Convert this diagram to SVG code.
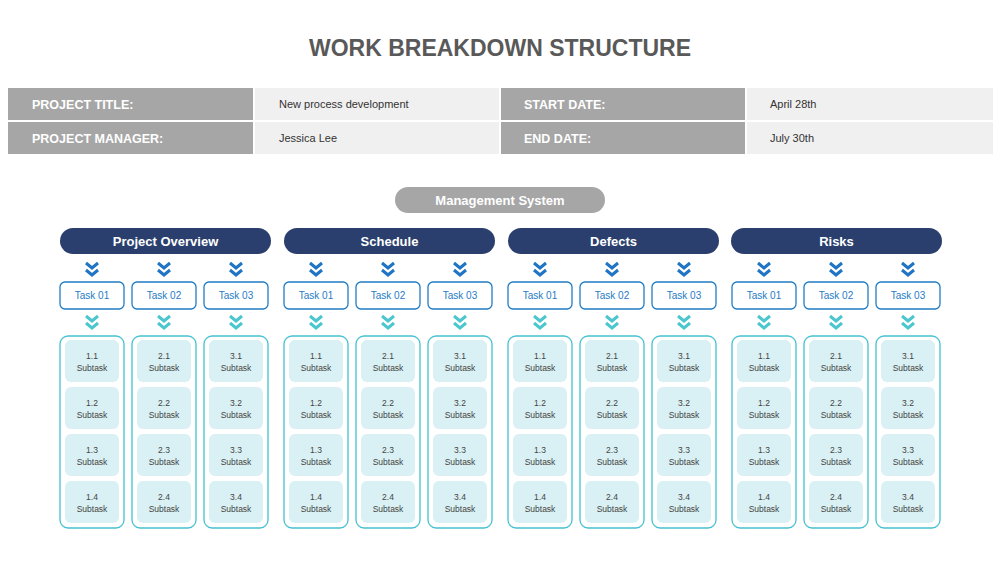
<svg xmlns="http://www.w3.org/2000/svg" xmlns:xlink="http://www.w3.org/1999/xlink" width="1000" height="563" viewBox="0 0 1000 563">
<style>
text{font-family:"Liberation Sans",Arial,sans-serif}
.lab{fill:#fff;font-weight:bold;font-size:12.5px}
.val{fill:#333;font-size:11px}
.pill{fill:#2b3f6e}
.ptx{fill:#fff;font-weight:bold;font-size:13px;text-anchor:middle}
.task{fill:#fff;stroke:#1f7bc4;stroke-width:1.3}
.ttx{fill:#1f7bc4;font-size:10px;text-anchor:middle}
.outer{fill:#fff;stroke:#45c2cf;stroke-width:1.3}
.cell{fill:#d9f1f4}
.stx{fill:#444;font-size:8.5px;text-anchor:middle}
</style>
<defs>
<g id="chevD"><path d="M-6,-6 L0,-1 L6,-6 M-6,1 L0,6 L6,1" fill="none" stroke="#1f74c4" stroke-width="3"/></g>
<g id="chevL"><path d="M-6,-6 L0,-1 L6,-6 M-6,1 L0,6 L6,1" fill="none" stroke="#4cc6cf" stroke-width="3"/></g>
</defs>
<rect width="1000" height="563" fill="#fff"/>
<text x="500" y="56" text-anchor="middle" font-size="23" font-weight="bold" fill="#595959">WORK BREAKDOWN STRUCTURE</text>
<g id="info">
<rect x="8" y="88" width="245" height="32" fill="#a6a6a6"/>
<rect x="255" y="88" width="244" height="32" fill="#f0f0f0"/>
<rect x="501" y="88" width="244" height="32" fill="#a6a6a6"/>
<rect x="747" y="88" width="246" height="32" fill="#f0f0f0"/>
<rect x="8" y="122" width="245" height="32" fill="#a6a6a6"/>
<rect x="255" y="122" width="244" height="32" fill="#f0f0f0"/>
<rect x="501" y="122" width="244" height="32" fill="#a6a6a6"/>
<rect x="747" y="122" width="246" height="32" fill="#f0f0f0"/>
<text class="lab" x="32" y="109">PROJECT TITLE:</text>
<text class="val" x="279" y="108">New process development</text>
<text class="lab" x="524" y="109">START DATE:</text>
<text class="val" x="770" y="108">April 28th</text>
<text class="lab" x="32" y="143">PROJECT MANAGER:</text>
<text class="val" x="279" y="142">Jessica Lee</text>
<text class="lab" x="524" y="143">END DATE:</text>
<text class="val" x="770" y="142">July 30th</text>
</g>
<g id="root"><rect x="395" y="187" width="210" height="26" rx="13" fill="#a6a6a6"/><text x="500" y="204.5" class="ptx" font-size="12">Management System</text></g>
<g id="connectors">
<use xlink:href="#chevD" x="92" y="269"/><use xlink:href="#chevD" x="164" y="269"/><use xlink:href="#chevD" x="236" y="269"/>
<use xlink:href="#chevD" x="316" y="269"/><use xlink:href="#chevD" x="388" y="269"/><use xlink:href="#chevD" x="460" y="269"/>
<use xlink:href="#chevD" x="540" y="269"/><use xlink:href="#chevD" x="612" y="269"/><use xlink:href="#chevD" x="684" y="269"/>
<use xlink:href="#chevD" x="764" y="269"/><use xlink:href="#chevD" x="836" y="269"/><use xlink:href="#chevD" x="908" y="269"/>
<use xlink:href="#chevL" x="92" y="322"/><use xlink:href="#chevL" x="164" y="322"/><use xlink:href="#chevL" x="236" y="322"/>
<use xlink:href="#chevL" x="316" y="322"/><use xlink:href="#chevL" x="388" y="322"/><use xlink:href="#chevL" x="460" y="322"/>
<use xlink:href="#chevL" x="540" y="322"/><use xlink:href="#chevL" x="612" y="322"/><use xlink:href="#chevL" x="684" y="322"/>
<use xlink:href="#chevL" x="764" y="322"/><use xlink:href="#chevL" x="836" y="322"/><use xlink:href="#chevL" x="908" y="322"/>
</g>
<g id="groups">
<g id="g1"><rect class="pill" x="60" y="228" width="211" height="26" rx="13"/><text class="ptx" x="165.5" y="246">Project Overview</text></g>
<g id="g2"><rect class="pill" x="284" y="228" width="211" height="26" rx="13"/><text class="ptx" x="389.5" y="246">Schedule</text></g>
<g id="g3"><rect class="pill" x="508" y="228" width="211" height="26" rx="13"/><text class="ptx" x="613.5" y="246">Defects</text></g>
<g id="g4"><rect class="pill" x="731" y="228" width="211" height="26" rx="13"/><text class="ptx" x="836.5" y="246">Risks</text></g>
</g>
<g id="tasks">
<defs>
<g id="col1">
<rect class="task" x="-32" y="282" width="64" height="27" rx="5"/><text class="ttx" y="299">Task 01</text>
<rect class="outer" x="-32" y="336" width="64" height="192" rx="8"/>
<rect class="cell" x="-27" y="340" width="54" height="42" rx="6"/><text class="stx" y="359">1.1</text><text class="stx" y="371">Subtask</text>
<rect class="cell" x="-27" y="387" width="54" height="42" rx="6"/><text class="stx" y="406">1.2</text><text class="stx" y="418">Subtask</text>
<rect class="cell" x="-27" y="434" width="54" height="42" rx="6"/><text class="stx" y="453">1.3</text><text class="stx" y="465">Subtask</text>
<rect class="cell" x="-27" y="481" width="54" height="42" rx="6"/><text class="stx" y="500">1.4</text><text class="stx" y="512">Subtask</text>
</g>
<g id="col2">
<rect class="task" x="-32" y="282" width="64" height="27" rx="5"/><text class="ttx" y="299">Task 02</text>
<rect class="outer" x="-32" y="336" width="64" height="192" rx="8"/>
<rect class="cell" x="-27" y="340" width="54" height="42" rx="6"/><text class="stx" y="359">2.1</text><text class="stx" y="371">Subtask</text>
<rect class="cell" x="-27" y="387" width="54" height="42" rx="6"/><text class="stx" y="406">2.2</text><text class="stx" y="418">Subtask</text>
<rect class="cell" x="-27" y="434" width="54" height="42" rx="6"/><text class="stx" y="453">2.3</text><text class="stx" y="465">Subtask</text>
<rect class="cell" x="-27" y="481" width="54" height="42" rx="6"/><text class="stx" y="500">2.4</text><text class="stx" y="512">Subtask</text>
</g>
<g id="col3">
<rect class="task" x="-32" y="282" width="64" height="27" rx="5"/><text class="ttx" y="299">Task 03</text>
<rect class="outer" x="-32" y="336" width="64" height="192" rx="8"/>
<rect class="cell" x="-27" y="340" width="54" height="42" rx="6"/><text class="stx" y="359">3.1</text><text class="stx" y="371">Subtask</text>
<rect class="cell" x="-27" y="387" width="54" height="42" rx="6"/><text class="stx" y="406">3.2</text><text class="stx" y="418">Subtask</text>
<rect class="cell" x="-27" y="434" width="54" height="42" rx="6"/><text class="stx" y="453">3.3</text><text class="stx" y="465">Subtask</text>
<rect class="cell" x="-27" y="481" width="54" height="42" rx="6"/><text class="stx" y="500">3.4</text><text class="stx" y="512">Subtask</text>
</g>
</defs>
<use xlink:href="#col1" x="92"/><use xlink:href="#col2" x="164"/><use xlink:href="#col3" x="236"/>
<use xlink:href="#col1" x="316"/><use xlink:href="#col2" x="388"/><use xlink:href="#col3" x="460"/>
<use xlink:href="#col1" x="540"/><use xlink:href="#col2" x="612"/><use xlink:href="#col3" x="684"/>
<use xlink:href="#col1" x="764"/><use xlink:href="#col2" x="836"/><use xlink:href="#col3" x="908"/>
</g>
</svg>
